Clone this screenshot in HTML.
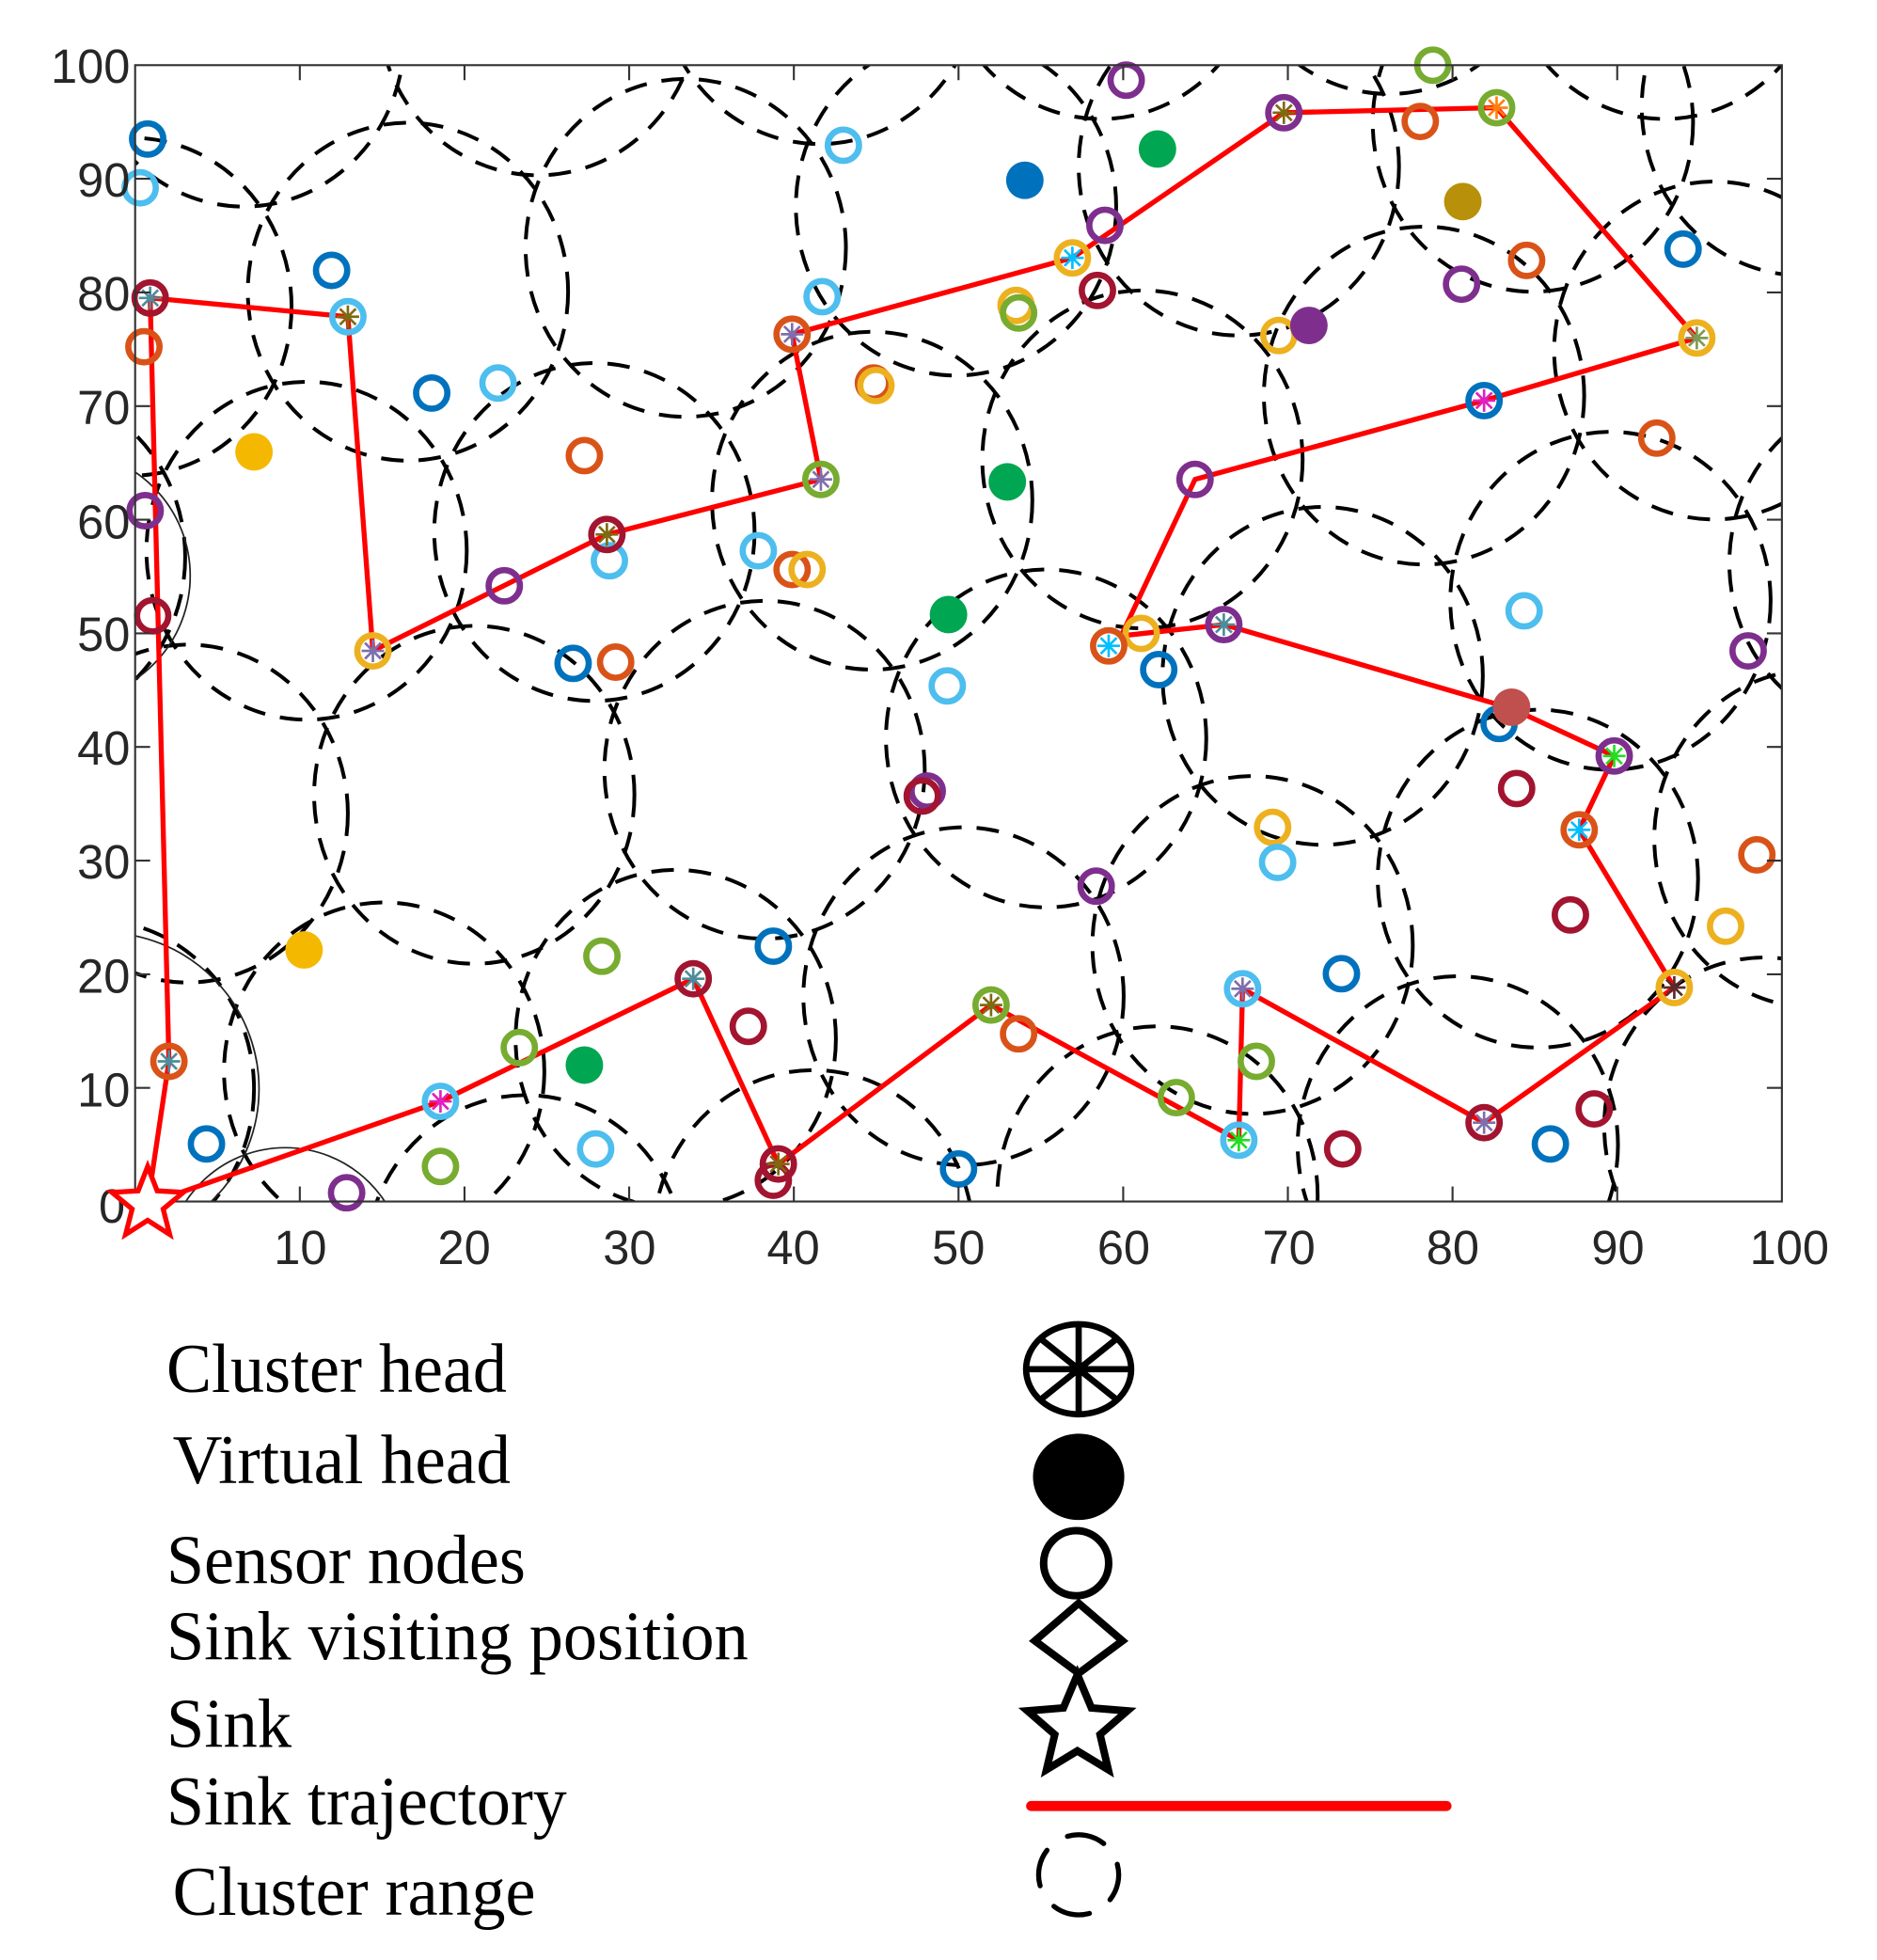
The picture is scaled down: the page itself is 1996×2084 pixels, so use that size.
<!DOCTYPE html>
<html><head><meta charset="utf-8">
<style>html,body{margin:0;padding:0;background:#fff;}svg{display:block;}</style>
</head><body>
<svg id="s" xmlns="http://www.w3.org/2000/svg" width="1996" height="2084" viewBox="0 0 1500 1566">
<defs><clipPath id="cp"><rect x="108" y="52" width="1316" height="908"/></clipPath></defs>
<rect width="1500" height="1566" fill="#fff"/>
<g id="rng" clip-path="url(#cp)" fill="none" stroke="#000" stroke-width="3" stroke-dasharray="18,12"></g>
<g clip-path="url(#cp)" fill="none" stroke="#222" stroke-width="1.3">
<circle cx="52" cy="460" r="100"/>
<circle cx="82" cy="870" r="125"/>
<circle cx="228" cy="1012" r="95"/>
</g>
<g id="traj" fill="none" stroke="#ff0000" stroke-width="4" stroke-linejoin="round"></g>
<g id="pts"></g>
<g fill="none" stroke="#333" stroke-width="1.6">
<rect x="108" y="52" width="1316" height="908"/>
<g id="ticks"></g>
</g>
<g font-family="'Liberation Sans', sans-serif" font-size="38" fill="#262626">
<text x="104" y="66" text-anchor="end">100</text>
<text x="104" y="157" text-anchor="end">90</text>
<text x="104" y="248" text-anchor="end">80</text>
<text x="104" y="339" text-anchor="end">70</text>
<text x="104" y="430" text-anchor="end">60</text>
<text x="104" y="520" text-anchor="end">50</text>
<text x="104" y="611" text-anchor="end">40</text>
<text x="104" y="702" text-anchor="end">30</text>
<text x="104" y="793" text-anchor="end">20</text>
<text x="104" y="884" text-anchor="end">10</text>
<text x="100" y="977" text-anchor="end">0</text>
<text x="240" y="1010" text-anchor="middle">10</text>
<text x="371" y="1010" text-anchor="middle">20</text>
<text x="503" y="1010" text-anchor="middle">30</text>
<text x="634" y="1010" text-anchor="middle">40</text>
<text x="766" y="1010" text-anchor="middle">50</text>
<text x="898" y="1010" text-anchor="middle">60</text>
<text x="1030" y="1010" text-anchor="middle">70</text>
<text x="1161" y="1010" text-anchor="middle">80</text>
<text x="1293" y="1010" text-anchor="middle">90</text>
<text x="1430" y="1010" text-anchor="middle">100</text>
</g>
<polygon id="sink" fill="#fff" stroke="#ff0000" stroke-width="4" stroke-linejoin="miter"/>
<g font-family="'Liberation Serif', serif" font-size="56" fill="#000">
<text x="133" y="1112" textLength="272" lengthAdjust="spacingAndGlyphs">Cluster head</text>
<text x="138" y="1185" textLength="270" lengthAdjust="spacingAndGlyphs">Virtual head</text>
<text x="133" y="1265" textLength="287" lengthAdjust="spacingAndGlyphs">Sensor nodes</text>
<text x="133" y="1326" textLength="465" lengthAdjust="spacingAndGlyphs">Sink visiting position</text>
<text x="133" y="1396" textLength="100" lengthAdjust="spacingAndGlyphs">Sink</text>
<text x="133" y="1458" textLength="320" lengthAdjust="spacingAndGlyphs">Sink trajectory</text>
<text x="138" y="1530" textLength="290" lengthAdjust="spacingAndGlyphs">Cluster range</text>
</g>
<g stroke="#000" fill="none" stroke-width="5">
<ellipse cx="862" cy="1094" rx="42" ry="36"/>
<path d="M820 1094H904M862 1058V1130M832 1070L892 1118M832 1118L892 1070"/>
<ellipse cx="862" cy="1180" rx="34" ry="32" fill="#000"/>
<circle cx="860" cy="1249" r="26" stroke-width="6"/>
<polygon points="862,1281 897,1311 862,1337 827,1311" stroke-width="6"/>
<polygon id="lstar" stroke-width="6" stroke-linejoin="miter"/>
<line x1="824" y1="1443" x2="1156" y2="1443" stroke="#ff0000" stroke-width="8" stroke-linecap="round"/>
<circle cx="862" cy="1498" r="32" stroke-width="4" stroke-dasharray="30,20" stroke-linecap="round" transform="rotate(-105 862 1498)"/>
</g>
</svg>
<script>
var NS="http://www.w3.org/2000/svg";
function el(p,t,a){var e=document.createElementNS(NS,t);for(var k in a)e.setAttribute(k,a[k]);p.appendChild(e);return e;}
var C={b:"#0072bd",lb:"#4dbeee",o:"#d95319",y:"#edb120",p:"#7e2f8e",g:"#77ac30",r:"#a2142f"};
var tk=document.getElementById("ticks");
for(var i=1;i<10;i++){var x=108+i*131.6,y=960-i*90.8;
el(tk,"line",{x1:x,y1:960,x2:x,y2:948});el(tk,"line",{x1:x,y1:52,x2:x,y2:64});
el(tk,"line",{x1:108,y1:y,x2:120,y2:y});el(tk,"line",{x1:1424,y1:y,x2:1412,y2:y});}
var rc=[[105,245],[326,233],[548,198],[764,165],[990,133],[1225,98],[1440,85],
[20,445],[245,440],[475,425],[697,400],[913,367],[1138,316],[1370,280],
[150,650],[379,635],[611,615],[836,590],[1057,540],[1287,480],[1510,450],
[75,870],[307,856],[540,830],[770,796],[1001,755],[1229,702],[1450,670],
[420,1010],[650,990],[925,955],[1165,915],[1410,900],
[195,30],[430,5],[655,-20],[880,-40],[1110,-60],[1330,-40]];
var rg=document.getElementById("rng");
rc.forEach(function(c){el(rg,"ellipse",{cx:c[0],cy:c[1],rx:128,ry:135});});
var T=[[118,962],[135,848],[120,238],[278,253],[298,520],[485,427],[656,383],[633,267],[857,206],[1026,90],[1196,86],[1356,270],[1186,320],[955,383],[896,508],[978,499],[1208,566],[1290,604],[1262,663],[1338,789],[1186,897],[993,790],[990,911],[792,803],[622,930],[554,782],[352,880],[118,962]];
el(document.getElementById("traj"),"polyline",{points:T.map(function(p){return p.join(",")}).join(" ")});
var P=document.getElementById("pts");
var S=[[118,111,"b"],[112,150,"lb"],[115,277,"o"],[116,408,"p"],[122,492,"r"],[265,216,"b"],[345,314,"b"],[398,306,"lb"],[467,364,"o"],[403,468,"p"],[487,448,"lb"],[458,530,"b"],[492,529,"o"],[606,440,"lb"],[633,455,"o"],[645,455,"y"],[657,237,"lb"],[674,116,"lb"],[698,306,"o"],[700,308,"y"],[812,244,"y"],[814,250,"g"],[757,548,"lb"],[741,632,"p"],[737,636,"r"],[883,180,"p"],[877,232,"r"],[900,64,"p"],[1135,97,"o"],[1145,52,"g"],[1022,268,"y"],[1168,227,"p"],[1220,208,"o"],[1345,199,"b"],[1324,350,"o"],[1218,488,"lb"],[1397,520,"p"],[912,506,"y"],[926,535,"b"],[1198,578,"b"],[1212,630,"r"],[1017,661,"y"],[1021,689,"lb"],[876,708,"p"],[1255,731,"r"],[1404,683,"o"],[1379,740,"y"],[1072,778,"b"],[1004,848,"g"],[940,877,"g"],[814,826,"o"],[1073,918,"r"],[1239,914,"b"],[1274,886,"r"],[766,934,"b"],[618,943,"r"],[618,756,"b"],[598,820,"r"],[481,764,"g"],[415,837,"g"],[476,918,"lb"],[352,932,"g"],[165,914,"b"],[277,953,"p"],[955,383,"p"]];
S.forEach(function(s){el(P,"circle",{cx:s[0],cy:s[1],r:12.5,fill:"none",stroke:C[s[2]],"stroke-width":5});});
var V=[[203,361,"#f5b800"],[819,144,"#0072bd"],[925,119,"#00a651"],[805,385,"#00a651"],[758,491,"#00a651"],[467,851,"#00a651"],[243,759,"#f5b800"],[1169,161,"#b8900a"],[1046,260,"#7e2f8e"],[1208,565,"#c0504d"]];
V.forEach(function(v){el(P,"circle",{cx:v[0],cy:v[1],r:15,fill:v[2]});});
var H=[[120,238,"r","#4d8c9c"],[278,253,"lb","#7e6a10"],[298,520,"y","#7e6fad"],[485,427,"r","#7e6a10"],[633,267,"o","#7e6fad"],[656,383,"g","#7e6fad"],[857,206,"y","#00bfff"],[1026,90,"p","#7e6a10"],[1196,86,"g","#ff7f0e"],[1356,270,"y","#7f9a55"],[1186,320,"b","#e020c0"],[978,499,"p","#4d8c9c"],[886,516,"o","#00bfff"],[1290,604,"p","#22dd22"],[1262,663,"o","#00bfff"],[1338,789,"y","#5a2a2a"],[1186,897,"r","#7e6fad"],[993,790,"lb","#7e6fad"],[990,911,"lb","#22dd22"],[792,803,"g","#7e6a10"],[622,930,"r","#7e6a10"],[554,782,"r","#4d8c9c"],[352,880,"lb","#e020c0"],[135,848,"o","#4d8c9c"]];
H.forEach(function(h){el(P,"circle",{cx:h[0],cy:h[1],r:12.5,fill:"none",stroke:C[h[2]],"stroke-width":5});
var d="";for(var k=0;k<4;k++){var a=k*Math.PI/4,dx=9*Math.cos(a),dy=9*Math.sin(a);d+="M"+(h[0]-dx)+" "+(h[1]-dy)+"L"+(h[0]+dx)+" "+(h[1]+dy);}
el(P,"path",{d:d,stroke:h[3],"stroke-width":2});});
function star(cx,cy,R,r){var pts=[];for(var k=0;k<10;k++){var a=-Math.PI/2+k*Math.PI/5,rr=k%2?r:R;pts.push((cx+rr*Math.cos(a)).toFixed(1)+","+(cy+rr*Math.sin(a)).toFixed(1));}return pts.join(" ");}
document.getElementById("sink").setAttribute("points",star(118,962,30,13));
document.getElementById("lstar").setAttribute("points",star(861,1380,42,19));
</script>
</body></html>
